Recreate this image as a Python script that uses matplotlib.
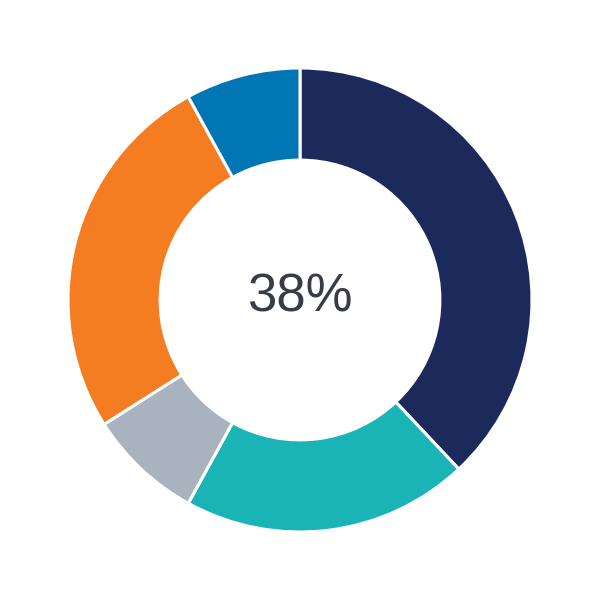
import matplotlib.pyplot as plt

# slice values, clockwise from the top
labels = ['A', 'B', 'C', 'D', 'E']
values = [38, 20, 8, 26, 8]
colors = ['#1c2a5b', '#1bb4b6', '#a9b3c0', '#f37d20', '#0076b5']
center_text = '38%'

fig = plt.figure(figsize=(6, 6), dpi=100)
ax = fig.add_axes([0, 0, 1, 1])

ax.pie(values, colors=colors, startangle=90, counterclock=False,
       radius=1.0, wedgeprops=dict(width=0.397, edgecolor='white', linewidth=2.2))

ax.text(0, 0.01, center_text, ha='center', va='center', fontsize=38,
        color='#373c47', family=['Liberation Sans', 'DejaVu Sans'])

lim = 300 / 232
ax.set_xlim(-lim, lim)
ax.set_ylim(-lim, lim)
ax.set_aspect('equal')
ax.axis('off')

plt.savefig('out.png', dpi=100, facecolor='white')
